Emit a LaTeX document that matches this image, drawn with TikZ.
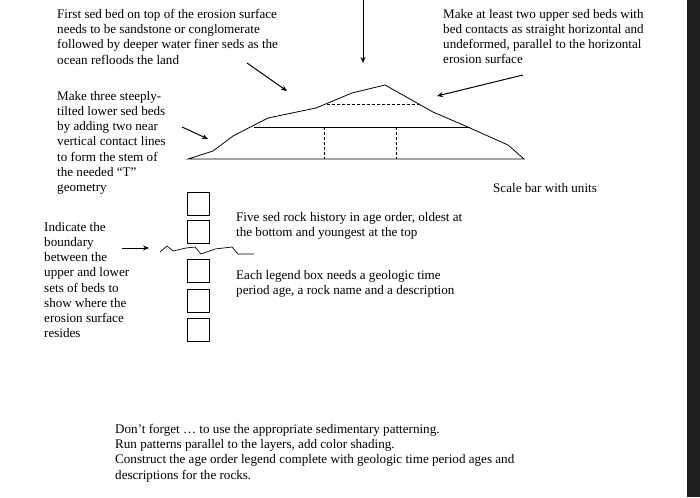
\documentclass[tikz,border=0pt]{standalone}
\usepackage{fontspec}
\setmainfont{Liberation Serif}
\tikzset{
 txt/.style={anchor=north west,inner sep=0pt,align=left,font=\fontsize{13.1}{15.2}\selectfont},
 arr/.style={-{Stealth[length=6pt,width=5pt]},line width=1pt},
 lbox/.style={draw,line width=0.8pt,minimum width=22pt,minimum height=23pt,inner sep=0pt},
 ln/.style={line width=0.8pt},
 dl/.style={line width=0.7pt,dash pattern=on 3pt off 2pt}
}
\usetikzlibrary{arrows.meta}
\begin{document}
\begin{tikzpicture}[x=1pt,y=-1pt]
\useasboundingbox (0,0) rectangle (700,497);
\fill[white] (0,0) rectangle (700,497);
\fill[black!88] (687,0) rectangle (700,497);
\node[txt] (t1) at (57,9) {First sed bed on top of the erosion surface\\needs to be sandstone or conglomerate\\followed by deeper water finer seds as the\\ocean refloods the land};
\node[txt] (t2) at (443,9) {Make at least two upper sed beds with\\bed contacts as straight horizontal and\\undeformed, parallel to the horizontal\\erosion surface};
\node[txt] (t3) at (57,91) {Make three steeply-\\tilted lower sed beds\\by adding two near\\vertical contact lines\\to form the stem of\\the needed ``T''\\geometry};
\node[txt] (t4) at (44,222) {Indicate the\\boundary\\between the\\upper and lower\\sets of beds to\\show where the\\erosion surface\\resides};
\node[txt] (t5) at (493,183) {Scale bar with units};
\node[txt] (t6) at (236,212) {Five sed rock history in age order, oldest at\\the bottom and youngest at the top};
\node[txt] (t7) at (236,270) {Each legend box needs a geologic time\\period age, a rock name and a description};
\node[txt] (t8) at (115,424) {Don't forget \dots\ to use the appropriate sedimentary patterning.\\Run patterns parallel to the layers, add color shading.\\Construct the age order legend complete with geologic time period ages and\\descriptions for the rocks.};
% profile
\draw[ln] (188,159) -- (213,151) -- (233,136) -- (268,118) -- (316,108) -- (352,93) -- (385,85) -- (433,112) -- (470,128) -- (508,145) -- (524,159) -- cycle;
\coordinate (hl) at (254,127); \coordinate (hr) at (470,127);
\draw[ln] (hl) -- (hr);
\draw[dl] (327,104) -- (419,104);
\draw[dl] (324,127) -- (324,159);
\draw[dl] (396,127) -- (396,159);
% arrows
\coordinate (a1s) at (247,63); \coordinate (a1e) at (287,91);
\draw[arr] (a1s) -- (a1e);
\coordinate (a2s) at (523,75); \coordinate (a2e) at (437,96);
\draw[arr] (a2s) -- (a2e);
\coordinate (a3s) at (182,127); \coordinate (a3e) at (208,139);
\draw[arr] (a3s) -- (a3e);
\coordinate (a4s) at (363,0); \coordinate (a4e) at (363,63);
\draw[arr] (a4s) -- (a4e);
\coordinate (a5s) at (122,248); \coordinate (a5e) at (149,248);
\draw[arr] (a5s) -- (a5e);
% legend boxes
\node[lbox] (b1) at (198,203.5) {};
\node[lbox] (b2) at (198,231.5) {};
\node[lbox] (b3) at (198,270.5) {};
\node[lbox] (b4) at (198,300.5) {};
\node[lbox] (b5) at (198,330) {};
% zigzag
\draw[line width=0.7pt] (160,252) -- (167,246) -- (173,251) -- (186,248) -- (195,247) -- (201,254) -- (215,249) -- (232,247) -- (238,254) -- (254,254);
\end{tikzpicture}
\end{document}
